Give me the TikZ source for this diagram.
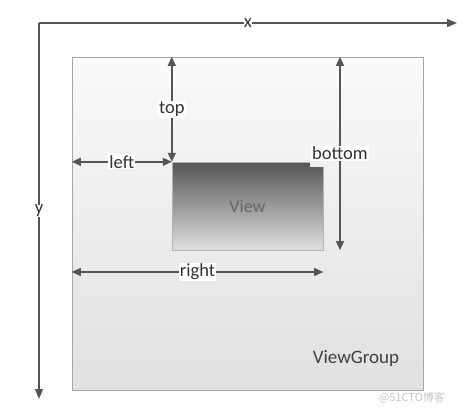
\documentclass[tikz,border=0pt]{standalone}
\usepackage{fontspec}
\setmainfont{Carlito}
\newfontfamily\cjkfont{Noto Sans CJK SC}
\usetikzlibrary{arrows.meta}
\definecolor{inkgray}{HTML}{555555}
\definecolor{vgtop}{HTML}{FAFAFA}
\definecolor{vgbottom}{HTML}{E0E0E0}

\tikzstyle{vgbox}=[rectangle,draw=gray!70,top color=vgtop,bottom color=vgbottom,minimum width=351pt,minimum height=333pt,inner sep=0pt]
\tikzstyle{viewbox}=[rectangle,draw=gray!60,top color=inkgray,bottom color=gray!25,minimum width=151pt,minimum height=88pt,inner sep=0pt,text=gray!80!black,font=\fontsize{18}{20}\selectfont]
\tikzstyle{axis}=[-{Triangle[length=10pt,width=8pt]},draw=inkgray,line width=1.5pt]
\tikzstyle{dim}=[{Triangle[length=9pt,width=8pt]}-{Triangle[length=9pt,width=8pt]},draw=inkgray,line width=1.4pt]
\tikzstyle{lbl}=[fill=white,inner sep=1pt,text=black!80,font=\fontsize{18.5}{20}\selectfont]

\begin{document}
\begin{tikzpicture}[x=1pt,y=-1pt]
        \useasboundingbox (0,0) rectangle (474,412);

        \coordinate (origin) at (39,23);
        \coordinate (xend)   at (457,23);
        \coordinate (yend)   at (39,399);

        \node[vgbox] (vg) at (247.5,223.5) {};
        \node[text=black!75,font=\fontsize{19}{21}\selectfont] (vglabel) at (356,358) {ViewGroup};

        \node[viewbox] (view) at (247.5,206) {View};
        % notch in the upper right corner
        \fill[vgtop!96!black] (view.north east) ++(-13,-1) rectangle ++(14,6);

        \draw[axis] (origin) -- (xend) node[lbl,midway,inner sep=0pt] {x};
        \draw[axis] (origin) -- (yend) node[lbl,midway,inner ysep=0pt] {y};

        \draw[dim] (view.north west |- vg.north) -- (view.north west) node[lbl,midway] {top};
        \draw[dim] (vg.west |- view.north west) -- (view.north west) node[lbl,midway] {left};
        \draw[dim] (340,0 |- vg.north) -- (340,0 |- view.south) node[lbl,midway] {bottom};
        \draw[dim] (vg.west |- 0,272) -- (view.east |- 0,272) node[lbl,midway] {right};

        \node[text=gray!45,font=\cjkfont\fontsize{11}{12}\selectfont] (mark) at (412,398) {@51CTO博客};
\end{tikzpicture}
\end{document}
